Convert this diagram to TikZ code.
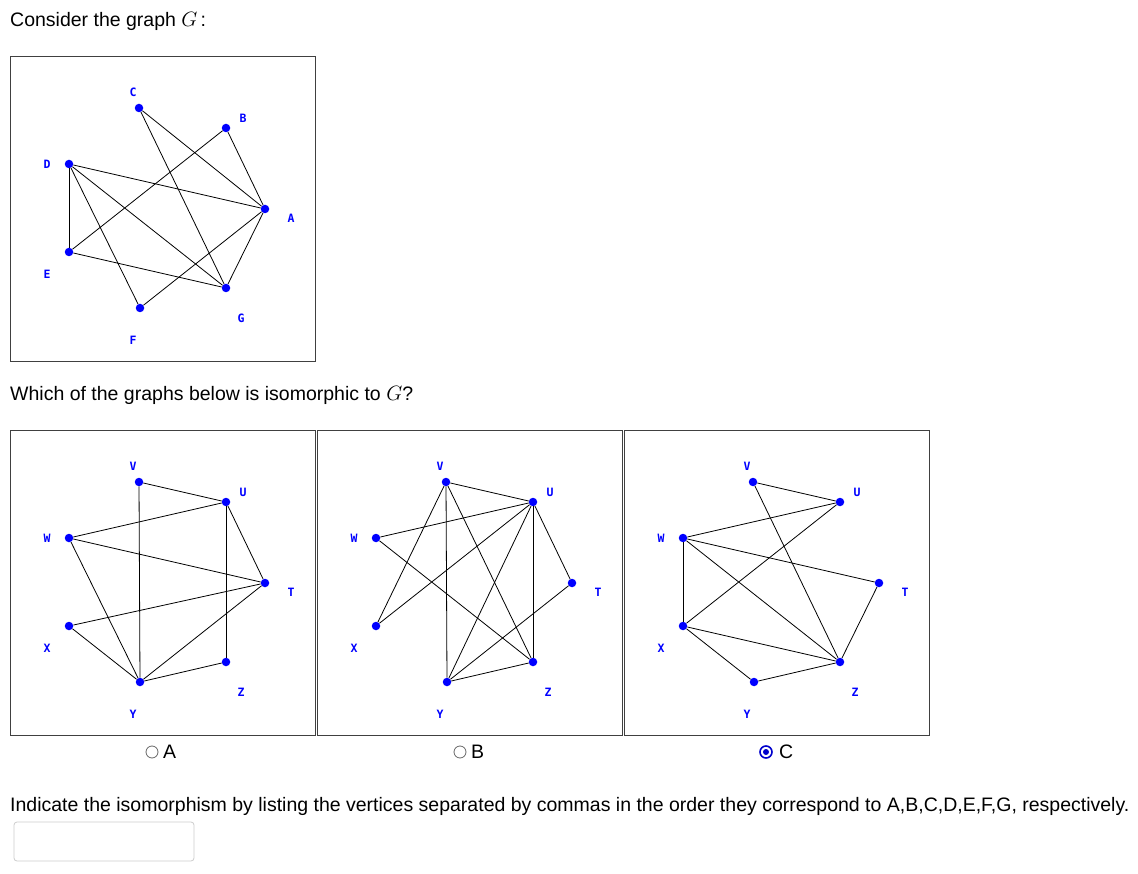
\documentclass[tikz,border=0pt]{standalone}
\usepackage{fontspec}
\setmainfont{Liberation Sans}
\newfontfamily\lblfont{DejaVu Sans Mono}
\begin{document}
\begin{tikzpicture}[x=1pt,y=-1pt,
  vtx/.style={circle,fill=blue,inner sep=0pt,minimum size=8.5pt},
  vlbl/.style={text=blue,font=\lblfont\bfseries\fontsize{11.5}{12}\selectfont,inner sep=0pt},
  edge/.style={draw=black,line width=0.8pt},
  panelbox/.style={draw=black!75,line width=0.9pt},
  txt/.style={anchor=west,inner sep=0pt,font=\fontsize{19.5}{22}\selectfont}]
\useasboundingbox (0,0) rectangle (1138,874);
\newcommand\mypanel[9]{%
 \begin{scope}[shift={(#1,#2)},name prefix=#3]
  \draw[panelbox] (0,0) rectangle (305,305);
  \node[vtx] (p1) at (129,52) {};
  \node[vtx] (p2) at (216,72) {};
  \node[vtx] (p3) at (59,108) {};
  \node[vtx] (p4) at (255,153) {};
  \node[vtx] (p5) at (59,196) {};
  \node[vtx] (p6) at (216,232) {};
  \node[vtx] (p7) at (130,252) {};
  \node[vlbl] (l1) at (123,36) {#4};
  \node[vlbl] (l2) at (233,62) {#5};
  \node[vlbl] (l3) at (37,108) {#6};
  \node[vlbl] (l4) at (281,162) {#7};
  \node[vlbl] (l5) at (37,218) {#8};
  \node[vlbl] (l6) at (231,262) {#9};
 \end{scope}}
% G: C B D A E G F
\mypanel{10}{56}{g-}{C}{B}{D}{A}{E}{G}
\node[vlbl] (g-l7) at (133,340) {F};
\foreach \a/\b in {1/4,1/6,2/5,2/4,3/4,3/5,3/6,3/7,5/6,4/7,4/6}
  \draw[edge] (g-p\a) -- (g-p\b);
% panels: V U W T X Z Y
\mypanel{10}{430}{a-}{V}{U}{W}{T}{X}{Z}
\node[vlbl] (a-l7) at (133,714) {Y};
\foreach \a/\b in {1/2,1/7,2/3,2/4,2/6,3/4,3/7,5/4,5/7,7/4,7/6}
  \draw[edge] (a-p\a) -- (a-p\b);
\mypanel{317}{430}{b-}{V}{U}{W}{T}{X}{Z}
\node[vlbl] (b-l7) at (440,714) {Y};
\foreach \a/\b in {1/2,1/5,1/7,1/6,2/3,2/5,2/7,2/6,2/4,3/6,4/7,7/6}
  \draw[edge] (b-p\a) -- (b-p\b);
\mypanel{624}{430}{c-}{V}{U}{W}{T}{X}{Z}
\node[vlbl] (c-l7) at (747,714) {Y};
\foreach \a/\b in {1/2,1/6,2/3,2/5,3/4,3/5,3/6,5/6,5/7,7/6,4/6}
  \draw[edge] (c-p\a) -- (c-p\b);
% texts
\node[txt] (t1) at (10,21) {Consider the graph $G$\,:};
\node[txt] (t2) at (10,395) {Which of the graphs below is isomorphic to $G$?};
\node[txt] (t3) at (10,806) {Indicate the isomorphism by listing the vertices separated by commas in the order they correspond to A,B,C,D,E,F,G, respectively.};
% radios
\node[circle,draw=black!60,line width=0.8pt,minimum size=12pt,inner sep=0pt] (ra) at (152,752) {};
\node[txt] (la) at (163,752) {A};
\node[circle,draw=black!60,line width=0.8pt,minimum size=12pt,inner sep=0pt] (rb) at (460,752) {};
\node[txt] (lb) at (471,752) {B};
\node[circle,draw=blue!80!black,line width=1.6pt,minimum size=12pt,inner sep=0pt] (rc) at (766,752) {};
\node[circle,fill=blue!80!black,minimum size=6pt,inner sep=0pt] (rcd) at (rc) {};
\node[txt] (lc) at (779,752) {C};
% input box
\draw[draw=black!20,line width=0.8pt,rounded corners=3pt,fill=white] (14,822) rectangle (194,861);
\end{tikzpicture}
\end{document}
